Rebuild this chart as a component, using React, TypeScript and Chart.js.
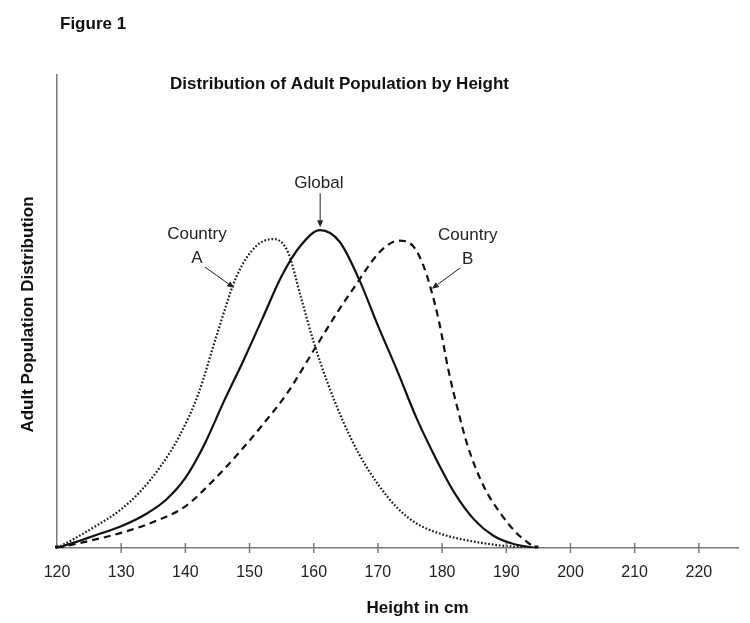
import React, { useEffect, useRef } from "react";
import { Chart, registerables } from "chart.js";

Chart.register(...registerables);

// ---- Data ----
const tickHeights = [120, 130, 140, 150, 160, 170, 180, 190, 200, 210, 220];

const globalHeights = [120, 123, 126, 130, 134, 137, 140, 143, 146, 149, 152, 155, 158, 161, 164, 167, 170, 173, 176, 179, 182, 185, 188, 191, 194.6];
const globalValues = [0, 1.3, 2.7, 4.6, 7.3, 10.2, 14.8, 22, 31, 39.5, 48.5, 57.5, 64, 67.2, 64.8, 57, 47, 37.5, 27.5, 19, 11.5, 6, 2.6, 0.9, 0];

const countryAHeights = [120, 123, 126, 130, 133, 136, 139, 142, 145, 148, 151, 153.8, 156, 158, 160, 162, 164.5, 167, 170, 173, 176, 180, 184, 188, 191, 194.6];
const countryAValues = [0, 2.2, 4.6, 8.2, 12, 17, 23.5, 32.5, 45.5, 57.5, 63.8, 65.3, 62.5, 53, 43.5, 35.5, 27, 20, 13.5, 8.5, 5.2, 2.9, 1.6, 0.7, 0.3, 0];

const countryBHeights = [120, 125, 130, 135, 140, 144, 148, 152, 156, 160, 164, 167, 169, 171, 173.2, 175.5, 177, 178.2, 179.5, 181, 182.5, 184, 186.5, 189, 191.5, 193.5, 194.8];
const countryBValues = [0, 1.5, 3.2, 5.5, 8.8, 13.8, 19.6, 26, 33, 41.8, 50.5, 56.5, 60.5, 63.5, 65, 63.8, 60, 55, 48, 37.5, 29, 21.5, 13, 7.5, 3.3, 1, 0];

const FONT = "'Liberation Sans', Arial, Helvetica, sans-serif";

function toPoints(xs: number[], ys: number[]) {
  return xs.map((x, i) => ({ x, y: ys[i] }));
}

function arrow(ctx: CanvasRenderingContext2D, x1: number, y1: number, x2: number, y2: number) {
  const ang = Math.atan2(y2 - y1, x2 - x1);
  const len = 7;
  const hw = 3;
  const bx = x2 - len * Math.cos(ang);
  const by = y2 - len * Math.sin(ang);
  ctx.beginPath();
  ctx.moveTo(x1, y1);
  ctx.lineTo(bx, by);
  ctx.stroke();
  ctx.beginPath();
  ctx.moveTo(x2, y2);
  ctx.lineTo(bx + hw * Math.sin(ang), by - hw * Math.cos(ang));
  ctx.lineTo(bx - hw * Math.sin(ang), by + hw * Math.cos(ang));
  ctx.closePath();
  ctx.fill();
}

const decorPlugin = {
  id: "decor",
  afterDraw(chart: any) {
    const { ctx, chartArea } = chart;
    const xs = chart.scales.x;
    const ys = chart.scales.y;
    ctx.save();
    // tick marks crossing the x axis
    ctx.strokeStyle = "#7a7a7a";
    ctx.lineWidth = 1.5;
    xs.ticks.forEach((t: any) => {
      if (t.value === 120) return;
      const px = xs.getPixelForValue(t.value);
      ctx.beginPath();
      ctx.moveTo(px, chartArea.bottom - 5);
      ctx.lineTo(px, chartArea.bottom + 5);
      ctx.stroke();
    });

    // small end markers where curves meet the axis
    ctx.fillStyle = "#111";
    [120, 194.7].forEach((v) => {
      const px = xs.getPixelForValue(v);
      ctx.fillRect(px - 2, chartArea.bottom - 2.5, 4, 3);
    });

    ctx.fillStyle = "#111";
    ctx.font = `bold 17px ${FONT}`;
    ctx.textBaseline = "middle";
    // Figure label
    ctx.textAlign = "left";
    ctx.fillText("Figure 1", 60, 24);
    // chart title
    ctx.textAlign = "center";
    ctx.fillText("Distribution of Adult Population by Height", 339.5, 84);
    // x axis title
    ctx.fillText("Height in cm", 417.5, 608);
    // y axis title
    ctx.save();
    ctx.translate(28, 314.5);
    ctx.rotate(-Math.PI / 2);
    ctx.fillText("Adult Population Distribution", 0, 0);
    ctx.restore();

    // series labels
    ctx.font = `17px ${FONT}`;
    ctx.fillStyle = "#222";
    ctx.textAlign = "center";
    ctx.textBaseline = "middle";
    const P = (x: number, y: number) => [xs.getPixelForValue(x), ys.getPixelForValue(y)];
    let [gx, gy] = P(160.8, 77.2);
    ctx.fillText("Global", gx, gy);
    let [ax, ay] = P(141.8, 66.4);
    ctx.fillText("Country", ax, ay);
    [ax, ay] = P(141.8, 61.3);
    ctx.fillText("A", ax, ay);
    let [bx, by] = P(184.0, 66.2);
    ctx.fillText("Country", bx, by);
    [bx, by] = P(184.0, 61.1);
    ctx.fillText("B", bx, by);

    // arrows
    ctx.strokeStyle = "#222";
    ctx.fillStyle = "#222";
    ctx.lineWidth = 1;
    let a = P(161, 75.0), b = P(161, 67.8);
    arrow(ctx, a[0], a[1], b[0], b[1]);
    a = P(143.05, 59.4); b = P(147.6, 55.0);
    arrow(ctx, a[0], a[1], b[0], b[1]);
    a = P(182.8, 59.2); b = P(178.4, 54.8);
    arrow(ctx, a[0], a[1], b[0], b[1]);
    ctx.restore();
  },
};

export default function App() {
  const ref = useRef<HTMLCanvasElement | null>(null);

  useEffect(() => {
    if (!ref.current) return;
    const chart = new Chart(ref.current, {
      type: "line",
      data: {
        datasets: [
          {
            label: "Global",
            data: toPoints(globalHeights, globalValues),
            borderColor: "#111",
            borderWidth: 2.2,
            pointRadius: 0,
            cubicInterpolationMode: "monotone",
            fill: false,
          },
          {
            label: "Country A",
            data: toPoints(countryAHeights, countryAValues),
            borderColor: "#1a1a1a",
            borderWidth: 2.2,
            borderDash: [1.7, 1.9],
            pointRadius: 0,
            cubicInterpolationMode: "monotone",
            fill: false,
          },
          {
            label: "Country B",
            data: toPoints(countryBHeights, countryBValues),
            borderColor: "#111",
            borderWidth: 2.2,
            borderDash: [7, 5],
            pointRadius: 0,
            cubicInterpolationMode: "monotone",
            fill: false,
          },
        ],
      },
      options: {
        animation: false,
        responsive: false,
        maintainAspectRatio: false,
        devicePixelRatio: 1,
        layout: { padding: { left: 0, right: 12, top: 75, bottom: 0 } },
        plugins: {
          legend: { display: false },
          tooltip: { enabled: false },
          title: { display: false },
        },
        scales: {
          x: {
            type: "linear",
            min: 120,
            max: 226.1,
            afterBuildTicks: (scale: any) => {
              scale.ticks = tickHeights.map((v) => ({ value: v }));
            },
            afterFit: (scale: any) => {
              scale.height = 75;
            },
            grid: { display: false, drawTicks: false },
            border: { display: true, color: "#7a7a7a", width: 1.5 },
            ticks: {
              padding: 15,
              color: "#222",
              font: { family: FONT, size: 16 },
              maxRotation: 0,
              autoSkip: false,
            },
          },
          y: {
            type: "linear",
            min: 0,
            max: 100,
            afterFit: (scale: any) => {
              scale.width = 57;
            },
            grid: { display: false, drawTicks: false },
            border: { display: true, color: "#7a7a7a", width: 1.5 },
            ticks: { display: false },
          },
        },
      },
      plugins: [decorPlugin],
    });
    return () => chart.destroy();
  }, []);

  return (
    <div style={{ position: "fixed", left: 0, top: 0, width: 750, height: 623, background: "#fff" }}>
      <canvas ref={ref} width={750} height={623} style={{ width: 750, height: 623 }} />
    </div>
  );
}
